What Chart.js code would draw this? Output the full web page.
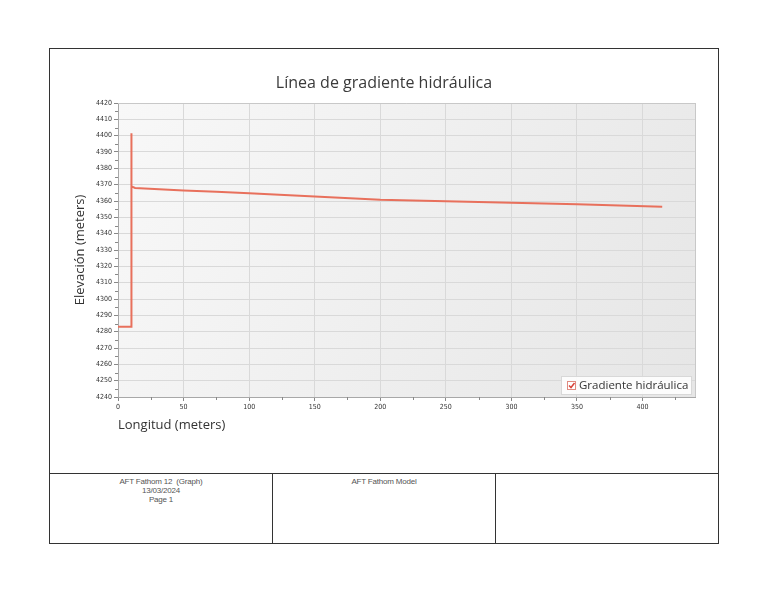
<!DOCTYPE html>
<html>
<head>
<meta charset="utf-8">
<script src="https://cdn.jsdelivr.net/npm/chart.js@4.4.1/dist/chart.umd.min.js"></script>
<style>
  body { margin: 0; background: #fff; width: 768px; height: 594px; position: relative; font-family: "Liberation Sans", Arial, sans-serif; }
  #frame { position: absolute; left: 49px; top: 48px; width: 668px; height: 494px; border: 1px solid #333; }
  #chartBox { position: absolute; left: 0; top: 0; width: 668px; height: 424px; }
  #footer { position: absolute; left: 0; top: 424px; width: 668px; height: 70px; border-top: 1px solid #333; display: flex; }
  #footer div { flex: 1; text-align: center; font-size: 8px; line-height: 9px; color: #555; padding-top: 3px; letter-spacing: -0.2px; }
  #footer div + div { border-left: 1px solid #333; }
</style>
</head>
<body>
<div id="frame">
  <div id="chartBox"><canvas id="hgl" width="668" height="424"></canvas></div>
  <div id="footer">
    <div>AFT Fathom 12 &nbsp;(Graph)<br>13/03/2024<br>Page 1</div>
    <div>AFT Fathom Model</div>
    <div></div>
  </div>
</div>
<script>
// longitud (m) and hydraulic grade line elevation (m)
const longitud = [0, 10, 10, 10.5, 13, 50, 75, 100, 150, 200, 250, 300, 350, 415];
const gradiente = [4283, 4283, 4401.5, 4369, 4368, 4366.5, 4365.6, 4364.7, 4362.7, 4360.8, 4359.8, 4359, 4358, 4356.5];
const xTicks = [0, 50, 100, 150, 200, 250, 300, 350, 400];
const yTicks = [4240, 4250, 4260, 4270, 4280, 4290, 4300, 4310, 4320, 4330, 4340, 4350, 4360, 4370, 4380, 4390, 4400, 4410, 4420];

const lineColor = '#e8705c';

// plot background, border, minor ticks and legend
const plotFrame = {
  id: 'plotFrame',
  beforeDraw(chart) {
    const { ctx, chartArea: a } = chart;
    const g = ctx.createLinearGradient(a.left, a.top, a.right, a.bottom);
    g.addColorStop(0, '#f8f8f8');
    g.addColorStop(1, '#e6e6e6');
    ctx.save();
    ctx.fillStyle = g;
    ctx.fillRect(a.left, a.top, a.right - a.left, a.bottom - a.top);
    ctx.restore();
  },
  afterDraw(chart) {
    const { ctx, chartArea: a, scales } = chart;
    ctx.save();
    ctx.strokeStyle = '#c8c8c8';
    ctx.lineWidth = 1;
    ctx.beginPath();
    ctx.moveTo(a.right + 0.5, a.top);
    ctx.lineTo(a.right + 0.5, a.bottom);
    ctx.moveTo(a.left, a.top + 0.5);
    ctx.lineTo(a.right, a.top + 0.5);
    ctx.stroke();
    // minor ticks
    ctx.strokeStyle = '#888';
    ctx.beginPath();
    for (let i = 0; i < xTicks.length; i++) {
      const px = Math.round(scales.x.getPixelForValue(xTicks[i] + 25)) + 0.5;
      if (px > a.right) break;
      ctx.moveTo(px, a.bottom);
      ctx.lineTo(px, a.bottom + 3);
    }
    for (let i = 0; i < yTicks.length - 1; i++) {
      const py = Math.round(scales.y.getPixelForValue(yTicks[i] + 5)) + 0.5;
      ctx.moveTo(a.left - 3, py);
      ctx.lineTo(a.left, py);
    }
    ctx.stroke();

    // legend inside plot area
    const lx = 511, ly = 327, lw = 130, lh = 18;
    ctx.fillStyle = 'rgba(255,255,255,0.85)';
    ctx.fillRect(lx, ly, lw, lh);
    ctx.strokeStyle = '#d8d8d8';
    ctx.strokeRect(lx + 0.5, ly + 0.5, lw, lh);
    ctx.fillStyle = '#fff';
    ctx.fillRect(lx + 6, ly + 5, 9, 9);
    ctx.strokeStyle = '#e08a80';
    ctx.strokeRect(lx + 6.5, ly + 5.5, 8, 8);
    ctx.strokeStyle = '#d9443a';
    ctx.lineWidth = 1.5;
    ctx.beginPath();
    ctx.moveTo(lx + 8, ly + 9.5);
    ctx.lineTo(lx + 10, ly + 11.5);
    ctx.lineTo(lx + 13.5, ly + 7);
    ctx.stroke();
    ctx.fillStyle = '#333';
    ctx.font = '11.5px "Open Sans", sans-serif';
    ctx.textBaseline = 'middle';
    ctx.fillText('Gradiente hidráulica', lx + 18, ly + lh / 2 + 1);
    ctx.restore();
  }
};

const tickFont = { family: '"DejaVu Sans Condensed", "DejaVu Sans", sans-serif', size: 7 };

new Chart(document.getElementById('hgl'), {
  type: 'line',
  data: {
    datasets: [{
      label: 'Gradiente hidráulica',
      data: longitud.map((x, i) => ({ x: x, y: gradiente[i] })),
      borderColor: lineColor,
      borderWidth: 2,
      pointRadius: 0,
      tension: 0,
      fill: false
    }]
  },
  options: {
    responsive: false,
    animation: false,
    layout: { padding: 0 },
    plugins: {
      legend: { display: false },
      tooltip: { enabled: false },
      title: {
        display: true,
        text: 'Línea de gradiente hidráulica',
        color: '#3a3a3a',
        font: { family: '"Open Sans", sans-serif', size: 16, weight: 'normal' },
        padding: { top: 25, bottom: 9.8 }
      }
    },
    scales: {
      x: {
        type: 'linear',
        min: 0,
        max: 440,
        afterBuildTicks: s => { s.ticks = xTicks.map(v => ({ value: v })); },
        afterFit: s => { s.height = 76; },
        ticks: { color: '#333', font: tickFont, padding: 2, maxRotation: 0, autoSkip: false, callback: v => String(v) },
        grid: { color: '#d9d9d9', tickColor: '#888', tickLength: 4 },
        border: { color: '#a8a8a8' },
        title: {
          display: true,
          text: 'Longitud (meters)',
          align: 'start',
          color: '#333',
          font: { family: '"Open Sans", sans-serif', size: 13 },
          padding: { top: 0, bottom: 40 }
        }
      },
      y: {
        type: 'linear',
        min: 4240,
        max: 4420,
        afterBuildTicks: s => { s.ticks = yTicks.map(v => ({ value: v })); },
        afterFit: s => { s.width = 68; },
        ticks: { color: '#333', font: tickFont, padding: 2, autoSkip: false, callback: v => String(v) },
        grid: { color: '#d9d9d9', tickColor: '#888', tickLength: 4 },
        border: { color: '#a8a8a8' },
        title: {
          display: true,
          text: 'Elevación (meters)',
          color: '#333',
          font: { family: '"Open Sans", sans-serif', size: 13 },
          padding: { top: 22, bottom: 0 }
        }
      },
      // empty right-hand strip so the page title stays centred on the whole frame
      yRight: {
        type: 'linear',
        position: 'right',
        min: 4240,
        max: 4420,
        afterFit: s => { s.width = 23; },
        ticks: { display: false },
        grid: { display: false },
        border: { display: false }
      }
    }
  },
  plugins: [plotFrame]
});
</script>
</body>
</html>
